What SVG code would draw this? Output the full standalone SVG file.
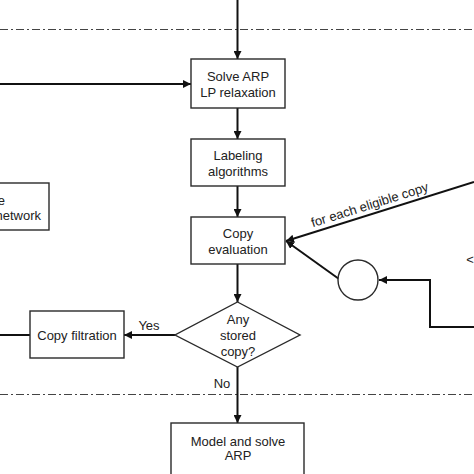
<svg xmlns="http://www.w3.org/2000/svg" width="474" height="474" viewBox="0 0 474 474">
<style>
.box{fill:#fff;stroke:#2a2a2a;stroke-width:1.4}
.t{font-family:"Liberation Sans",Arial,sans-serif;font-size:13px;fill:#222;text-anchor:middle}
.c{fill:none;stroke:#111;stroke-width:2}
.sep{stroke:#444;stroke-width:1;stroke-dasharray:8 3 2 3;fill:none}
</style>
<defs>
<marker id="ah" viewBox="0 0 10 10" refX="10" refY="5" markerWidth="4" markerHeight="4" orient="auto" markerUnits="strokeWidth">
<path d="M0,0 L10,5 L0,10 z" fill="#111"/>
</marker>
</defs>
<rect width="474" height="474" fill="#fff"/>
<g id="separators">
<line class="sep" x1="0" y1="29.5" x2="474" y2="29.5"/>
<line class="sep" x1="0" y1="394.5" x2="474" y2="394.5"/>
</g>
<g id="connectors">
<line class="c" x1="237.5" y1="0" x2="237.5" y2="59" marker-end="url(#ah)"/>
<line class="c" x1="0" y1="84" x2="191" y2="84" marker-end="url(#ah)"/>
<line class="c" x1="237.5" y1="108" x2="237.5" y2="139" marker-end="url(#ah)"/>
<line class="c" x1="237.5" y1="186" x2="237.5" y2="217" marker-end="url(#ah)"/>
<line class="c" x1="237.5" y1="264" x2="237.5" y2="302" marker-end="url(#ah)"/>
<line class="c" x1="237.5" y1="367" x2="237.5" y2="423" marker-end="url(#ah)"/>
<line class="c" x1="175" y1="335" x2="124" y2="335" marker-end="url(#ah)"/>
<line class="c" x1="30" y1="335" x2="0" y2="335"/>
<line class="c" x1="474" y1="182" x2="286" y2="241" marker-end="url(#ah)"/>
<line class="c" x1="339" y1="279" x2="286" y2="241" marker-end="url(#ah)"/>
<polyline class="c" points="474,327 430,327 430,280 379,280" marker-end="url(#ah)"/>
<text class="t" x="371" y="209" transform="rotate(-17.5 371 209)">for each eligible copy</text>
<text class="t" x="149" y="330">Yes</text>
<text class="t" x="222" y="388">No</text>
</g>
<g id="node-left">
<rect class="box" x="-20" y="183" width="69" height="47"/>
<text class="t" x="5" y="205" style="text-anchor:end">e</text>
<text class="t" x="41" y="220" style="text-anchor:end">network</text>
</g>
<g id="node-solve">
<rect class="box" x="191" y="59" width="94" height="49"/>
<text class="t" x="238" y="81">Solve ARP</text>
<text class="t" x="238" y="97">LP relaxation</text>
</g>
<g id="node-labeling">
<rect class="box" x="191" y="139" width="94" height="47"/>
<text class="t" x="238" y="160">Labeling</text>
<text class="t" x="238" y="176">algorithms</text>
</g>
<g id="node-copyeval">
<rect class="box" x="191" y="217" width="94" height="47"/>
<text class="t" x="238" y="238">Copy</text>
<text class="t" x="238" y="254">evaluation</text>
</g>
<g id="node-decision">
<polygon class="box" points="237.5,302 300,335 237.5,367 175,335"/>
<text class="t" x="238" y="324">Any</text>
<text class="t" x="238" y="340">stored</text>
<text class="t" x="238" y="356">copy?</text>
</g>
<g id="node-filtration">
<rect class="box" x="30" y="311" width="94" height="47"/>
<text class="t" x="77" y="340">Copy filtration</text>
</g>
<g id="node-model">
<rect class="box" x="171" y="423" width="133" height="70"/>
<text class="t" x="238" y="446">Model and solve</text>
<text class="t" x="238" y="460">ARP</text>
</g>
<g id="node-circle">
<circle class="box" cx="358" cy="280" r="20"/>
</g>
<g id="node-right">
<text class="t" x="470" y="264">&lt;</text>
</g>
</svg>
